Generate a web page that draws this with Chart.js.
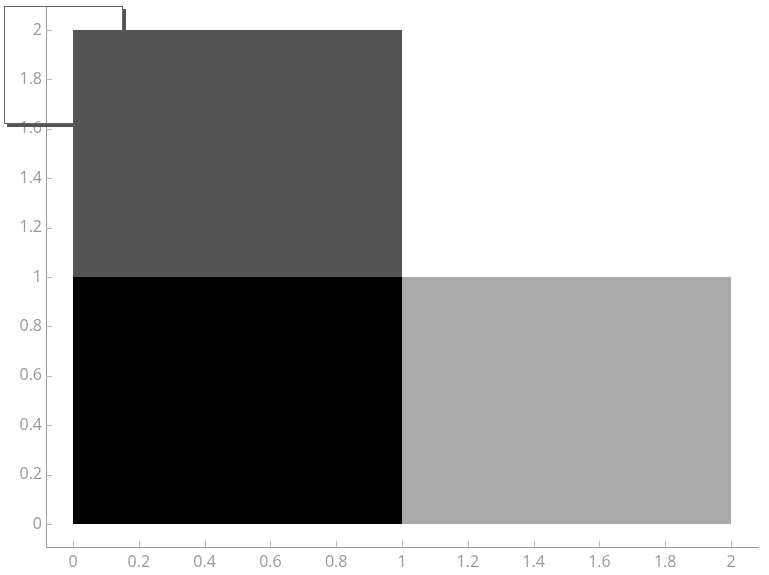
<!DOCTYPE html>
<html>
<head>
<meta charset="utf-8">
<script src="https://cdn.jsdelivr.net/npm/chart.js@4/dist/chart.umd.min.js"></script>
<style>
html,body{margin:0;padding:0;background:#fff;}
#wrap{width:769px;height:575px;position:relative;}
</style>
</head>
<body>
<div id="wrap"><canvas id="c"></canvas></div>
<script>
// Rectangles: [xStart, xEnd, yBottom, yTop]
const rectNames = ['black', 'darkgray', 'lightgray'];
const rectX0 = [0, 0, 1];
const rectX1 = [1, 1, 2];
const rectY0 = [0, 1, 0];
const rectY1 = [1, 2, 1];
const rectColors = ['#000000', '#555555', '#aaaaaa'];

const xTicks = [0, 0.2, 0.4, 0.6, 0.8, 1, 1.2, 1.4, 1.6, 1.8, 2];
const yTicks = [0, 0.2, 0.4, 0.6, 0.8, 1, 1.2, 1.4, 1.6, 1.8, 2];
const xRange = [-0.082, 2.082];
const yRange = [-0.093, 2.093];

const AXIS_COLOR = '#999999';
const LABEL_COLOR = '#999999';

// each rectangle = a top edge line filled down to its bottom edge line
const datasets = [];
rectNames.forEach((n, i) => {
  datasets.push({
    label: n + '_bottom',
    data: [{x: rectX0[i], y: rectY0[i]}, {x: rectX1[i], y: rectY0[i]}],
    borderWidth: 0, pointRadius: 0, fill: false, showLine: true,
    borderColor: 'rgba(0,0,0,0)'
  });
  datasets.push({
    label: n,
    data: [{x: rectX0[i], y: rectY1[i]}, {x: rectX1[i], y: rectY1[i]}],
    borderWidth: 0, pointRadius: 0, showLine: true,
    borderColor: 'rgba(0,0,0,0)',
    backgroundColor: rectColors[i],
    fill: {target: datasets.length - 1}
  });
});

// empty legend frame with drop shadow, drawn over the axes but under the marks
const boxPlugin = {
  id: 'legendBox',
  beforeDatasetsDraw(chart) {
    const ctx = chart.ctx;
    ctx.save();
    ctx.fillStyle = '#555555';
    ctx.fillRect(123, 9, 3, 118);
    ctx.fillRect(7, 124, 119, 3);
    ctx.strokeStyle = '#666666';
    ctx.lineWidth = 1;
    ctx.strokeRect(4.5, 6.5, 118, 117);
    ctx.restore();
  }
};

const tickPlugin = {
  id: 'innerTicks',
  afterDraw(chart) {
    const ctx = chart.ctx;
    const xs = chart.scales.x, ys = chart.scales.y;
    const ca = chart.chartArea;
    ctx.save();
    ctx.strokeStyle = '#bbbbbb';
    ctx.lineWidth = 1;
    ctx.beginPath();
    xTicks.forEach(v => {
      const px = Math.round(xs.getPixelForValue(v)) + 0.5;
      ctx.moveTo(px, ca.bottom);
      ctx.lineTo(px, ca.bottom - 6);
    });
    yTicks.forEach(v => {
      const py = Math.round(ys.getPixelForValue(v)) + 0.5;
      ctx.moveTo(ca.left, py);
      ctx.lineTo(ca.left + 6, py);
    });
    ctx.stroke();
    ctx.restore();
  }
};

new Chart(document.getElementById('c'), {
  type: 'scatter',
  data: {datasets},
  options: {
    responsive: true,
    maintainAspectRatio: false,
    animation: false,
    layout: {padding: {top: 7, right: 11, left: 0, bottom: 0}},
    plugins: {legend: {display: false}, tooltip: {enabled: false}},
    elements: {line: {tension: 0}},
    scales: {
      x: {
        type: 'linear', min: xRange[0], max: xRange[1],
        afterBuildTicks: s => { s.ticks = xTicks.map(v => ({value: v})); },
        afterFit: s => { s.height = 28; s.paddingLeft = 0; s.paddingRight = 0; },
        grid: {display: false, drawTicks: false, tickLength: 0},
        border: {display: true, color: AXIS_COLOR, width: 1},
        ticks: {
          color: LABEL_COLOR, padding: 6, maxRotation: 0, autoSkip: false,
          font: {family: 'Open Sans', size: 16},
          callback: v => String(Math.round(v * 10) / 10)
        }
      },
      y: {
        type: 'linear', min: yRange[0], max: yRange[1],
        afterBuildTicks: s => { s.ticks = yTicks.map(v => ({value: v})); },
        afterFit: s => { s.width = 46; s.paddingTop = 0; s.paddingBottom = 0; },
        grid: {display: false, drawTicks: false, tickLength: 0},
        border: {display: true, color: AXIS_COLOR, width: 1},
        ticks: {
          color: LABEL_COLOR, padding: 4, autoSkip: false,
          font: {family: 'Open Sans', size: 16},
          callback: v => String(Math.round(v * 10) / 10)
        }
      }
    }
  },
  plugins: [boxPlugin, tickPlugin]
});
</script>
</body>
</html>
